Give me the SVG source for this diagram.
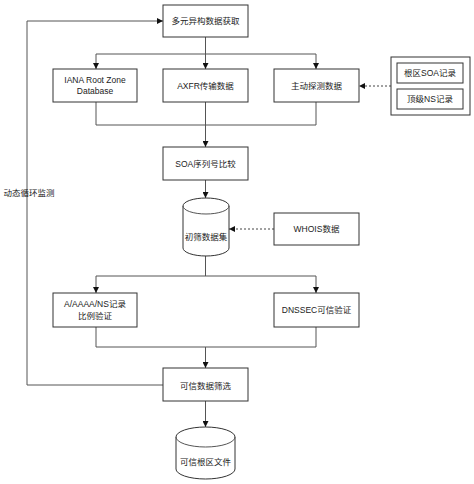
<svg xmlns="http://www.w3.org/2000/svg" width="474" height="484" viewBox="0 0 474 484">
<defs>
<style>
.box{fill:#fff;stroke:#333;stroke-width:1}
.ln{fill:none;stroke:#555;stroke-width:1}
.dash{fill:none;stroke:#444;stroke-width:1;stroke-dasharray:2 2}
text{font-family:"Liberation Sans","Noto Sans CJK SC",sans-serif;font-size:8.5px;fill:#222;text-anchor:middle;dominant-baseline:central}
</style>
<marker id="ah" viewBox="0 0 8 8" refX="8" refY="4" markerWidth="6" markerHeight="6" orient="auto" markerUnits="userSpaceOnUse">
<path d="M0,0 L8,4 L0,8 Z" fill="#111"/>
</marker>
</defs>
<rect width="474" height="484" fill="#fff"/>
<g id="connectors">
<path class="ln" d="M205.5,37 V54 M96,54 H316" />
<path class="ln" d="M96,54 V69" marker-end="url(#ah)"/>
<path class="ln" d="M205.5,54 V69" marker-end="url(#ah)"/>
<path class="ln" d="M316,54 V69" marker-end="url(#ah)"/>
<path class="ln" d="M96,102 V125 H316 V102"/>
<path class="ln" d="M205.5,102 V147" marker-end="url(#ah)"/>
<path class="dash" d="M391,86 H359" marker-end="url(#ah)"/>
<path class="ln" d="M205.5,180 V198" marker-end="url(#ah)"/>
<path class="dash" d="M274,229 H229" marker-end="url(#ah)"/>
<path class="ln" d="M205.5,256 V276 M96,276 H316"/>
<path class="ln" d="M96,276 V293" marker-end="url(#ah)"/>
<path class="ln" d="M316,276 V293" marker-end="url(#ah)"/>
<path class="ln" d="M96,327 V347 H316 V327"/>
<path class="ln" d="M205.5,347 V368" marker-end="url(#ah)"/>
<path class="ln" d="M205.5,401 V427" marker-end="url(#ah)"/>
<path class="ln" d="M163,385 H27 V21 H163" marker-end="url(#ah)"/>
<text x="29" y="193">动态循环监测</text>
</g>
<g id="n-acquire"><rect class="box" x="163" y="5" width="85" height="32"/><text x="205.5" y="21">多元异构数据获取</text></g>
<g id="n-iana"><rect class="box" x="53" y="69" width="84" height="33"/><text x="95" y="80">IANA Root Zone</text><text x="95" y="91">Database</text></g>
<g id="n-axfr"><rect class="box" x="163" y="69" width="85" height="33"/><text x="205.5" y="85.5">AXFR传输数据</text></g>
<g id="n-probe"><rect class="box" x="274" y="69" width="85" height="33"/><text x="316.5" y="85.5">主动探测数据</text></g>
<g id="n-group"><rect class="box" x="391" y="57" width="79" height="58"/>
<g id="n-soa-rec"><rect class="box" x="397" y="63" width="66" height="20"/><text x="430" y="73">根区SOA记录</text></g>
<g id="n-ns-rec"><rect class="box" x="397" y="89" width="66" height="20"/><text x="430" y="99">顶级NS记录</text></g>
</g>
<g id="n-soa"><rect class="box" x="163" y="147" width="85" height="33"/><text x="205.5" y="163.5">SOA序列号比较</text></g>
<g id="n-initial"><path class="box" d="M183,206 A23,8 0 0 1 229,206 V248 A23,8 0 0 1 183,248 Z"/><path class="ln" d="M183,206 A23,8 0 0 0 229,206"/><text x="206" y="237">初筛数据集</text></g>
<g id="n-whois"><rect class="box" x="274" y="213" width="85" height="32"/><text x="316.5" y="229">WHOIS数据</text></g>
<g id="n-ratio"><rect class="box" x="53" y="293" width="84" height="34"/><text x="95" y="304">A/AAAA/NS记录</text><text x="95" y="316">比例验证</text></g>
<g id="n-dnssec"><rect class="box" x="274" y="293" width="85" height="34"/><text x="316.5" y="310">DNSSEC可信验证</text></g>
<g id="n-filter"><rect class="box" x="163" y="368" width="85" height="33"/><text x="205.5" y="386">可信数据筛选</text></g>
<g id="n-file"><path class="box" d="M176,437 A29.5,10 0 0 1 235,437 V469 A29.5,10 0 0 1 176,469 Z"/><path class="ln" d="M176,437 A29.5,10 0 0 0 235,437"/><text x="205.5" y="462">可信根区文件</text></g>
</svg>
